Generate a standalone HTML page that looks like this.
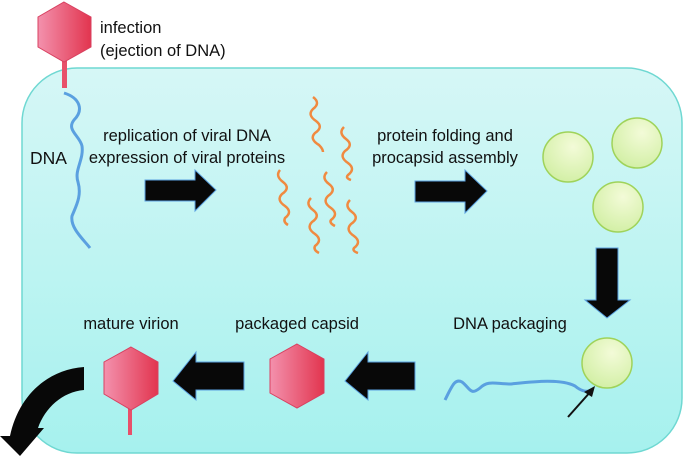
<!DOCTYPE html>
<html><head><meta charset="utf-8"><style>
html,body{margin:0;padding:0;background:#fff}
svg{display:block}
text{font-family:"Liberation Sans",sans-serif;font-size:16.5px;fill:#111}
</style></head><body>
<svg width="685" height="459" viewBox="0 0 685 459" xmlns="http://www.w3.org/2000/svg">
<defs>
<linearGradient id="bg" x1="0" y1="0" x2="0" y2="1"><stop offset="0" stop-color="#d6f7f6"/><stop offset="1" stop-color="#a6f1ee"/></linearGradient>
<linearGradient id="hx" x1="0" y1="0" x2="1" y2="0"><stop offset="0" stop-color="#f391ad"/><stop offset="1" stop-color="#e2354f"/></linearGradient>
<radialGradient id="gc" cx="0.6" cy="0.3" r="0.8"><stop offset="0" stop-color="#f3fbd8"/><stop offset="1" stop-color="#cfeea0"/></radialGradient>
</defs>
<rect x="22" y="68" width="660" height="385" rx="55" fill="url(#bg)" stroke="#6fd8d2" stroke-width="1.5"/>
<rect x="62" y="61" width="5" height="27" fill="#e8506a"/>
<polygon points="64,2 91,17 91,47 64,62 38,47 38,17" fill="url(#hx)" stroke="#d84060"/>
<text x="100" y="33">infection</text>
<text x="100" y="56">(ejection of DNA)</text>
<path d="M64,93 C80,98 84,110 74,120 C66,130 80,136 82,146 C84,160 74,170 78,182 C82,196 76,206 72,216 C70,228 84,240 90,248" fill="none" stroke="#5aa0e0" stroke-width="3"/>
<text x="30" y="164" style="font-size:17.5px">DNA</text>
<text x="187" y="141" text-anchor="middle">replication of viral DNA</text>
<text x="187" y="163" text-anchor="middle">expression of viral proteins</text>
<polygon points="145,180 195,180 195,170 216,190 195,211 195,201 145,201" fill="#080808" stroke="#5aa0e0"/>
<g fill="none" stroke="#f08a40" stroke-width="2.5">
<path d="M313,97 q8,6 0,12 q-6,6 3,12 q8,6 -1,12 q-6,6 4,12 q4,4 4,7"/>
<path d="M344,127 q-6,6 2,12 q8,6 -1,12 q-6,6 3,12 q8,6 0,12 q-3,3 3,5"/>
<path d="M280,170 q-5,6 3,12 q8,6 -1,12 q-6,6 3,12 q8,6 0,12 q-2,4 3,7"/>
<path d="M327,172 q-6,6 2,12 q8,6 -1,12 q-6,6 3,12 q8,6 0,12 q-2,3 4,6"/>
<path d="M311,198 q-6,6 2,12 q8,6 -1,12 q-6,6 3,12 q8,6 0,12 q-2,4 4,7"/>
<path d="M350,200 q-6,6 2,12 q8,6 -1,12 q-6,6 3,12 q8,6 0,12 q-2,3 4,5"/>
</g>
<text x="445" y="141" text-anchor="middle">protein folding and</text>
<text x="445" y="163" text-anchor="middle">procapsid assembly</text>
<polygon points="415,181 465,181 465,170 487,191 465,213 465,202 415,202" fill="#080808" stroke="#5aa0e0"/>
<g fill="url(#gc)" stroke="#9fd35a" stroke-width="1.5">
<circle cx="568" cy="157" r="25"/>
<circle cx="637" cy="143" r="25"/>
<circle cx="618" cy="207" r="25"/>
</g>
<polygon points="596,248 618,248 618,300 630,300 607,318 585,300 596,300" fill="#080808" stroke="#5aa0e0"/>
<text x="510" y="329" text-anchor="middle">DNA packaging</text>
<path d="M445,400 C452,386 455,378 462,382 C470,388 470,396 480,388 C488,380 496,384 510,384 C530,382 560,378 575,386 C582,392 588,392 592,390" fill="none" stroke="#5aa0e0" stroke-width="3"/>
<circle cx="607" cy="363" r="25" fill="url(#gc)" stroke="#9fd35a" stroke-width="1.5"/>
<line x1="568" y1="417" x2="592" y2="390" stroke="#111" stroke-width="2"/>
<polygon points="595,386 584,392 592,397" fill="#111"/>
<polygon points="415,362 368,362 368,352 345,381 368,400 368,390 415,390" fill="#080808" stroke="#5aa0e0"/>
<text x="297" y="329" text-anchor="middle">packaged capsid</text>
<polygon points="297,344 324,359 324,393 297,408 270,393 270,359" fill="url(#hx)" stroke="#d84060"/>
<polygon points="244,362 196,362 196,352 173,381 196,400 196,390 244,390" fill="#080808" stroke="#5aa0e0"/>
<text x="131" y="329" text-anchor="middle">mature virion</text>
<rect x="128" y="405" width="4" height="30" fill="#e8506a"/>
<polygon points="131,347 158,362 158,394 131,410 104,394 104,362" fill="url(#hx)" stroke="#d84060"/>
<path d="M84,367 L84,390 C62,392 45,408 38,428 L44,428 L20,456 L0,436 L10,436 C18,398 45,370 84,367 Z" fill="#080808"/>
</svg>
</body></html>
